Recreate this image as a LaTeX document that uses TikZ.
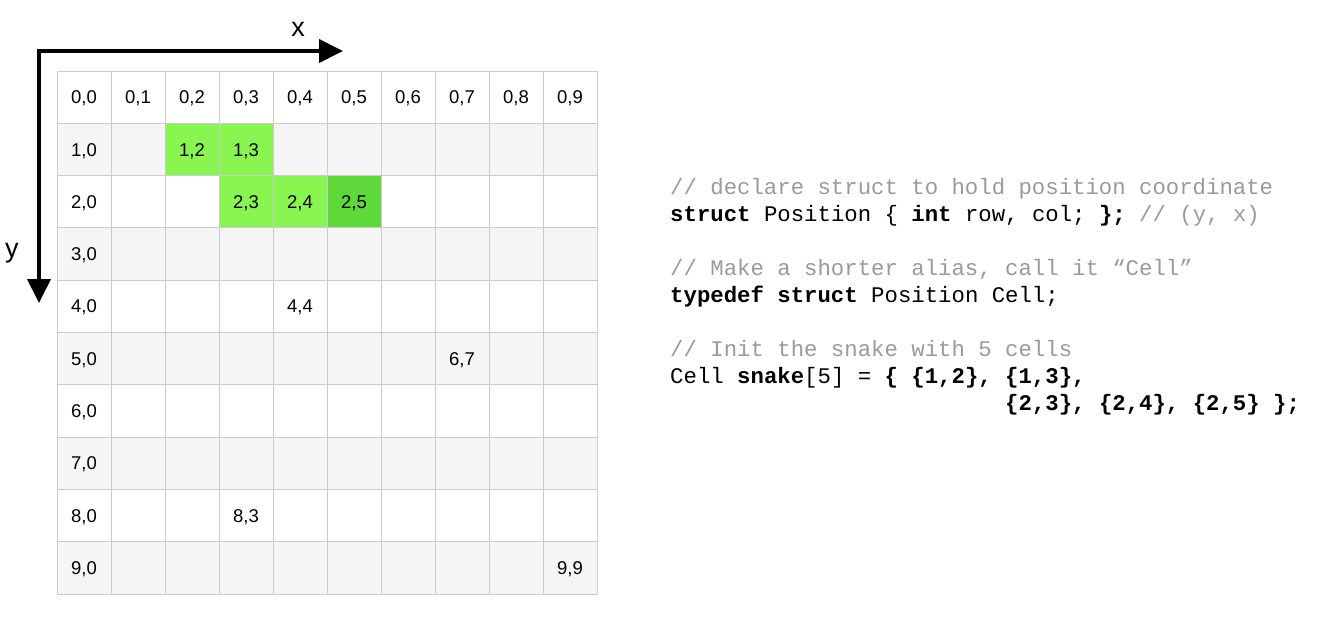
\documentclass[tikz,border=0pt]{standalone}
\usepackage{fontspec}
\setmainfont{Liberation Sans}
\setmonofont{Liberation Mono}
\usepackage{tikz}
\usetikzlibrary{arrows.meta}

\definecolor{gridline}{HTML}{CCCCCC}
\definecolor{rowshade}{HTML}{F5F5F5}
\definecolor{snakebody}{HTML}{88F550}
\definecolor{snakehead}{HTML}{5FD93A}
\definecolor{comment}{HTML}{9A9A9A}
\newcommand{\cmt}[1]{{\color{comment}#1}}

\begin{document}
\begin{tikzpicture}[x=1pt, y=-1pt,
    cell/.style={draw=gridline, line width=1pt, minimum width=54pt, minimum height=52.3pt,
        inner sep=0pt, outer sep=0pt, anchor=north west},
    lbl/.style={font=\fontsize{18.5}{22}\selectfont, text height=13.2pt, text depth=0pt, inner sep=0pt},
    axis/.style={line width=4pt, {Triangle[length=24pt,width=23pt]}-{Triangle[length=24pt,width=23pt]}},
    axlbl/.style={font=\fontsize{27}{32}\selectfont, inner sep=0pt},
    codeline/.style={font=\fontsize{22.33}{27}\selectfont\ttfamily, anchor=base west, inner sep=0pt}]
    \useasboundingbox (0,0) rectangle (1340,616);

    % grid, odd rows shaded
    \foreach \r in {0,...,9}
      \foreach \c in {0,...,9} {
        \ifodd\r \def\shade{rowshade}\else\def\shade{white}\fi
        \node[cell, fill=\shade] (c\r\c) at (57+54*\c, 71+52.3*\r) {};
      }

    % snake
    \foreach \p/\fillc in {12/snakebody,13/snakebody,23/snakebody,24/snakebody,25/snakehead}
      \node[cell, fill=\fillc] (s\p) at (c\p.north west) {};

    \foreach \c in {0,...,9} \node[lbl] (t0\c) at (c0\c) {0,\c};
    \foreach \r in {1,...,9} \node[lbl] (t\r0) at (c\r0) {\r,0};
    \foreach \r/\c in {1/2,1/3,2/3,2/4,2/5,4/4,8/3,9/9}
      \node[lbl] (t\r\c) at (c\r\c) {\r,\c};
    \node[lbl] (t57) at (c57) {6,7};

    % axes
    \coordinate (origin) at (39,51);
    \coordinate (xtip) at (343,51);
    \coordinate (ytip) at (39,303);
    \draw[axis] (xtip) -- (origin) -- (ytip);
    \node[axlbl] (xlbl) at (298,29) {x};
    \node[axlbl] (ylbl) at (12,253) {y};

    % code
    \node[codeline] (code1) at (670,194) {\cmt{// declare struct to hold position coordinate}};
    \node[codeline] (code2) at (670,221) {\textbf{struct} Position \{ \textbf{int} row, col; \textbf{\};} \cmt{// (y, x)}};
    \node[codeline] (code3) at (670,275) {\cmt{// Make a shorter alias, call it “Cell”}};
    \node[codeline] (code4) at (670,302) {\textbf{typedef struct} Position Cell;};
    \node[codeline] (code5) at (670,356) {\cmt{// Init the snake with 5 cells}};
    \node[codeline] (code6) at (670,383) {Cell \textbf{snake}[5] = \textbf{\{ \{1,2\}, \{1,3\},}};
    \node[codeline] (code7) at (670,410) {\hphantom{Cell \textbf{snake}[5] = \textbf{\{ \{1,2\}, }}\textbf{\{2,3\}, \{2,4\}, \{2,5\} \};}};
\end{tikzpicture}
\end{document}
